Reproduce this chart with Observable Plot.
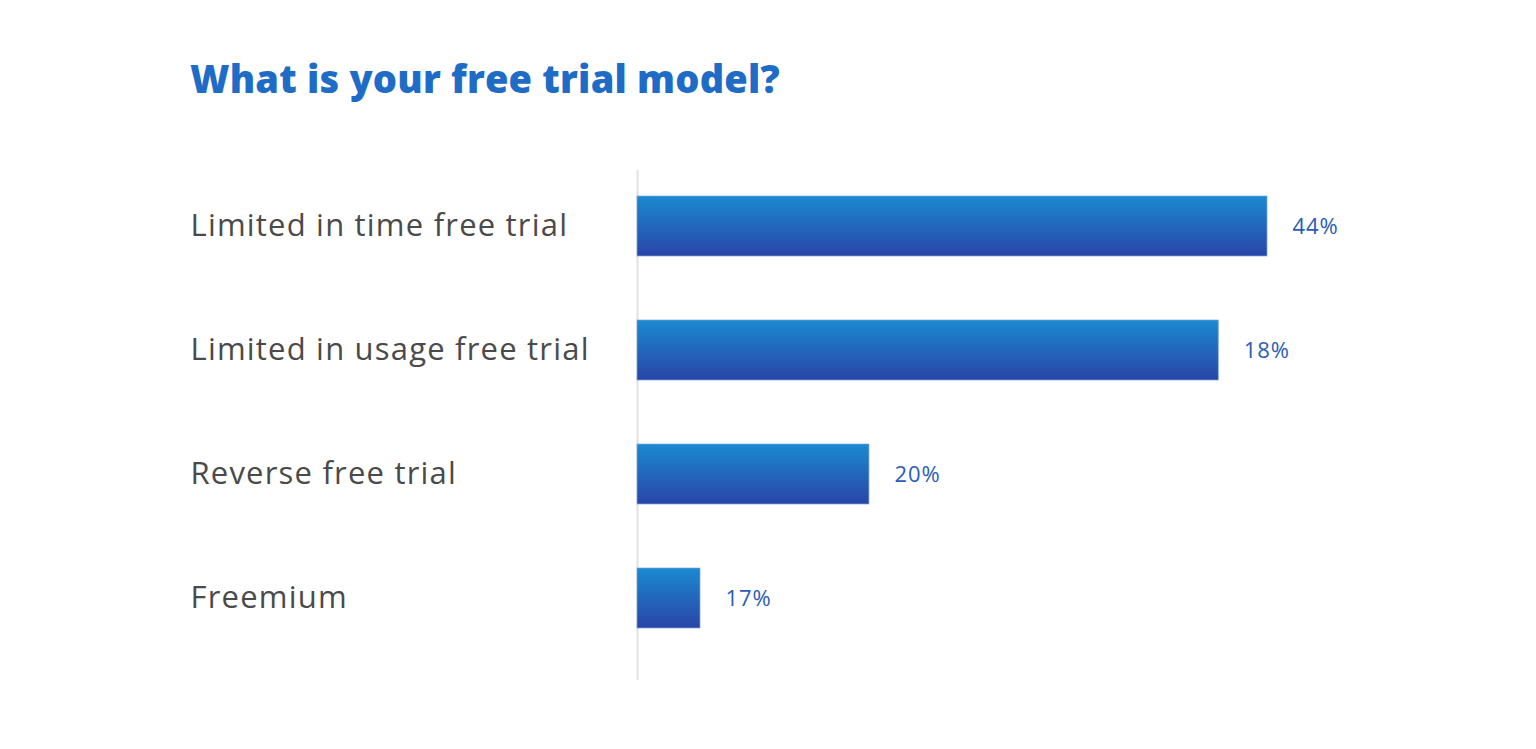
<!DOCTYPE html>
<html>
<head>
<meta charset="utf-8">
<script src="https://cdn.jsdelivr.net/npm/d3@7"></script>
<script src="https://cdn.jsdelivr.net/npm/@observablehq/plot@0.6"></script>
<style>
  html, body { margin: 0; padding: 0; background: #ffffff; }
  #wrap { position: relative; width: 1536px; height: 749px; overflow: hidden; }
  #title {
    position: absolute; left: 190px; top: 52px; margin: 0;
    font-family: "Open Sans", Lato, sans-serif; font-weight: 800; font-size: 38px;
    color: #1f6cc6; letter-spacing: 0.2px; white-space: nowrap;
  }
  #chart { position: absolute; left: 0; top: 0; }
  .catlabel text { letter-spacing: 1.2px; }
  .vallabel text { letter-spacing: 0.9px; }
</style>
</head>
<body>
<div id="wrap">
  <h1 id="title">What is your free trial model?</h1>
  <div id="chart"></div>
</div>
<script>
// Categories, bar lengths (as drawn in the picture), and printed value labels
const categories = ["Limited in time free trial", "Limited in usage free trial", "Reverse free trial", "Freemium"];
const barLengths = [44, 40.6, 16.2, 4.4];
const valueLabels = ["44%", "18%", "20%", "17%"];

const data = categories.map((c, i) => ({category: c, length: barLengths[i], label: valueLabels[i]}));

const gradientDefs = () => {
  const ns = "http://www.w3.org/2000/svg";
  const defs = document.createElementNS(ns, "defs");
  const g = document.createElementNS(ns, "linearGradient");
  g.setAttribute("id", "barGrad");
  g.setAttribute("x1", "0"); g.setAttribute("y1", "0");
  g.setAttribute("x2", "0"); g.setAttribute("y2", "1");
  [["0%", "#1a8ad0"], ["100%", "#2a44a8"]].forEach(([o, c]) => {
    const s = document.createElementNS(ns, "stop");
    s.setAttribute("offset", o); s.setAttribute("stop-color", c);
    g.appendChild(s);
  });
  defs.appendChild(g);
  return defs;
};

const chart = Plot.plot({
  width: 1536,
  height: 749,
  marginLeft: 637,
  marginRight: 269,
  marginTop: 170,
  marginBottom: 69,
  style: {background: "transparent"},
  x: {domain: [0, 44], axis: null},
  y: {domain: categories, range: [195, 628], paddingInner: 0.517, paddingOuter: 0, axis: null},
  marks: [
    gradientDefs,
    Plot.ruleX([0], {stroke: "#e2e2e2", strokeWidth: 2}),
    Plot.barX(data, {
      x: "length", y: "category",
      fill: "url(#barGrad)", stroke: "#7aa6e0", strokeOpacity: 0.7, strokeWidth: 1
    }),
    Plot.text(data, {
      x: "length", y: "category", text: "label",
      textAnchor: "start", dx: 25, className: "vallabel",
      fill: "#2b5cb8", fontSize: 22, fontWeight: 500,
      fontFamily: "Open Sans, Lato, sans-serif"
    }),
    Plot.text(data, {
      y: "category", text: "category", className: "catlabel",
      frameAnchor: "left", textAnchor: "start", dx: -447,
      fill: "#4a4a4a", fontSize: 31, fontWeight: 500,
      fontFamily: "Open Sans, Lato, sans-serif"
    })
  ]
});
document.getElementById("chart").appendChild(chart);
</script>
</body>
</html>
